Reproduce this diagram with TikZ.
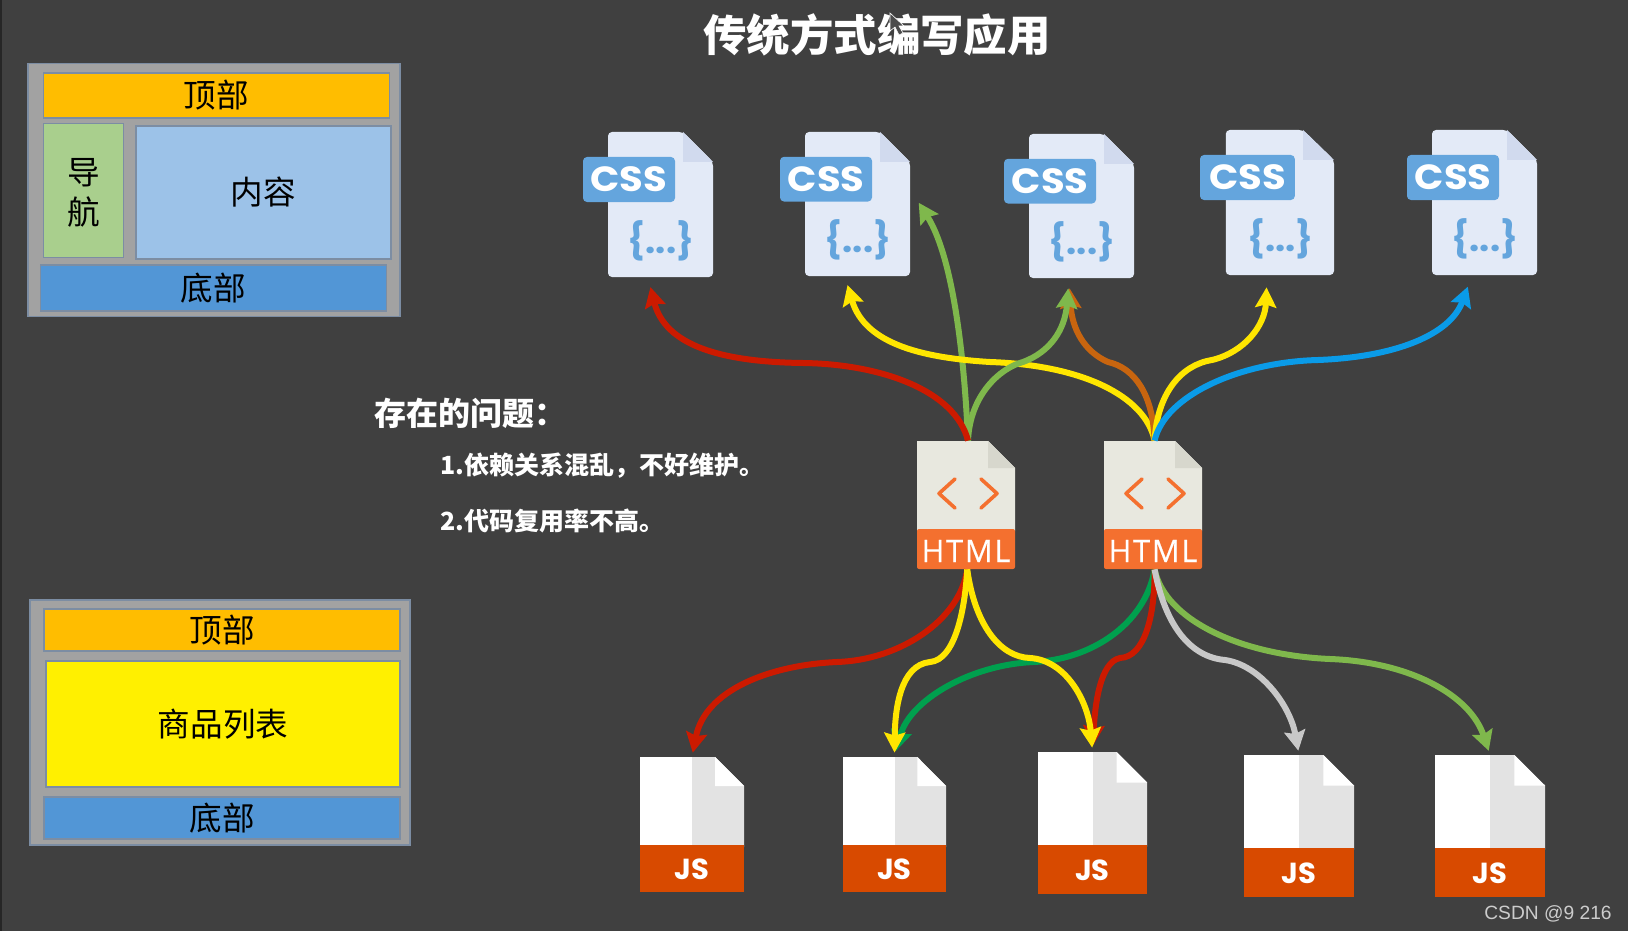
\documentclass[tikz,border=0pt]{standalone}
\usepackage{fontspec}
\usetikzlibrary{arrows.meta}
\setmainfont{Noto Sans CJK SC}
\newfontfamily\iconfont{Poppins}
\newfontfamily\htmlfont[FakeBold=0.4]{Open Sans}
\newfontfamily\wmfont{Liberation Sans}
\definecolor{bgc}{HTML}{404040}
\definecolor{frameg}{HTML}{A2A2A2}
\definecolor{edgeb}{HTML}{7C8DA3}
\definecolor{topc}{HTML}{FFBD00}
\definecolor{navc}{HTML}{A9CF8D}
\definecolor{contc}{HTML}{9CC2E8}
\definecolor{botc}{HTML}{5296D6}
\definecolor{listc}{HTML}{FFF000}
\definecolor{cssb}{HTML}{E3EAF7}
\definecolor{cssf}{HTML}{D1DAEE}
\definecolor{cssl}{HTML}{64A5DD}
\definecolor{htmlb}{HTML}{E8E8DF}
\definecolor{htmlf}{HTML}{D7D7CD}
\definecolor{htmlo}{HTML}{F4702F}
\definecolor{jsg}{HTML}{E3E3E3}
\definecolor{jso}{HTML}{D84A00}
\definecolor{lred}{HTML}{CC1A00}
\definecolor{lyel}{HTML}{FFE600}
\definecolor{lgrn}{HTML}{7FB84C}
\definecolor{dgrn}{HTML}{00A04E}
\definecolor{lora}{HTML}{C8650F}
\definecolor{lblu}{HTML}{0A9BE8}
\definecolor{lgry}{HTML}{C8C8C8}
\tikzset{
  box/.style={draw=edgeb,line width=.8pt,inner sep=0pt,text=black},
  boxtxt/.style={font=\fontsize{16.3}{19}\selectfont},
  probtxt/.style={anchor=west,inner sep=0pt,text=white},
  link/.style={line width=3pt,-{Stealth[length=10pt,width=10.5pt,inset=1.5pt]}},
}
% #1 name, #2 left, #3 top, #4 width, #5 height  (reference 130 x 145)
\newcommand{\cssicon}[5]{
 \node[inner sep=0pt,minimum width=#4*.5pt,minimum height=#5*.5pt] (#1) at (#2+#4/2,#3+#5/2) {};
 \begin{scope}[shift={(#2,#3)},xscale=#4/130,yscale=#5/145]
  \fill[cssb,rounded corners=2pt] (25,0) -- (100,0) -- (130,30) -- (130,145) -- (25,145) -- cycle;
  \fill[cssf] (100,0) -- (130,30) -- (100,30) -- cycle;
  \fill[cssl,rounded corners=2pt] (0,25) rectangle (92,70);
  \node[text=white,font={\iconfont\bfseries\fontsize{17.5}{20}\selectfont}] (#1lab) at (46,47) {\scalebox{1.1}[1]{CSS}};
  \node[text=cssl,font={\iconfont\bfseries\fontsize{18}{22}\selectfont}] (#1br) at (78,109) {\{...\}};
 \end{scope}}
% reference 98 x 128
\newcommand{\htmlicon}[3]{
 \node[inner sep=0pt,minimum width=98*.5pt,minimum height=128*.5pt] (#1) at (#2+49,#3+64) {};
 \begin{scope}[shift={(#2,#3)}]
  \fill[htmlb] (0,0) -- (71,0) -- (98,27) -- (98,90) -- (0,90) -- cycle;
  \fill[htmlf] (71,0) -- (98,27) -- (71,27) -- cycle;
  \fill[htmlo,rounded corners=1pt] (0,88) rectangle (98,128);
  \draw[htmlo,line width=1.8pt,line cap=round,line join=round] (38,38) -- (22,52.5) -- (38,67);
  \draw[htmlo,line width=1.8pt,line cap=round,line join=round] (64,38) -- (80,52.5) -- (64,67);
  \node[text=white,font={\htmlfont\fontsize{15.5}{19}\selectfont}] (#1lab) at (49,110) {H\kern.8pt T\kern.8pt M\kern.8pt L};
 \end{scope}}
% reference 104 x 135
\newcommand{\jsicon}[5]{
 \node[inner sep=0pt,minimum width=#4*.5pt,minimum height=#5*.5pt] (#1) at (#2+#4/2,#3+#5/2) {};
 \begin{scope}[shift={(#2,#3)},xscale=#4/104,yscale=#5/135]
  \fill[jsg] (52,0) -- (75,0) -- (104,29) -- (104,90) -- (52,90) -- cycle;
  \fill[white] (0,0) rectangle (52,90);
  \fill[white] (75,0) -- (104,29) -- (75,29) -- cycle;
  \fill[jso] (0,88) rectangle (104,135);
  \node[text=white,font={\iconfont\bfseries\fontsize{14.5}{17}\selectfont}] (#1lab) at (52,112) {JS};
 \end{scope}}
\begin{document}
\begin{tikzpicture}[x=.5pt,y=-.5pt]
\useasboundingbox (0,0) rectangle (1628,931);
\fill[bgc] (0,0) rectangle (1628,931);
\fill[black!85] (0,0) rectangle (2,931);
% title
\node[text=white,font={\bfseries\fontsize{21.7}{25}\selectfont}] (title) at (877,35) {传统方式编写应用};
\fill[black!70,draw=white,line width=.3pt] (890,13) -- (890,31) -- (895,27) -- (899,35) -- (903,33) -- (899,26) -- (904,26) -- cycle;
% panel 1
\node[box,fill=frameg,minimum width=186pt,minimum height=126.5pt] (p1) at (214,190) {};
\node[box,boxtxt,fill=topc,minimum width=173pt,minimum height=22.5pt] (p1top) at (216.5,95.5) {顶部};
\node[box,boxtxt,fill=navc,minimum width=40pt,minimum height=67pt,align=center] (p1nav) at (83.5,190.5) {\rule{0pt}{15.5pt}导\\[1pt]航};
\node[box,boxtxt,fill=contc,minimum width=127.5pt,minimum height=66.5pt] (p1cont) at (263.5,192.5) {内容};
\node[box,boxtxt,fill=botc,minimum width=173pt,minimum height=23pt] (p1bot) at (213.5,288) {底部};
% panel 2
\node[box,fill=frameg,minimum width=190pt,minimum height=122.5pt] (p2) at (220,722.5) {};
\node[box,boxtxt,fill=topc,minimum width=178pt,minimum height=21pt] (p2top) at (222,630) {顶部};
\node[box,boxtxt,fill=listc,minimum width=177pt,minimum height=63pt] (p2list) at (223,724) {商品列表};
\node[box,boxtxt,fill=botc,minimum width=178pt,minimum height=21pt] (p2bot) at (222,818) {底部};
% problems
\node[probtxt,font={\bfseries\fontsize{16}{19}\selectfont}] (q0) at (374,413) {存在的问题：};
\node[probtxt,font={\bfseries\fontsize{12.5}{15}\selectfont}] (q1) at (440,466) {1.依赖关系混乱，不好维护。};
\node[probtxt,font={\bfseries\fontsize{12.5}{15}\selectfont}] (q2) at (440,521) {2.代码复用率不高。};
% files
\cssicon{css1}{583}{132}{130}{145}
\cssicon{css2}{780}{132}{130}{144}
\cssicon{css3}{1004}{134}{130}{144}
\cssicon{css4}{1200}{130}{134}{145}
\cssicon{css5}{1407}{130}{130}{145}
\htmlicon{html1}{917}{441}
\htmlicon{html2}{1104}{441}
\jsicon{js1}{640}{757}{104}{135}
\jsicon{js2}{843}{757}{103}{135}
\jsicon{js3}{1038}{752}{109}{142}
\jsicon{js4}{1244}{755}{110}{142}
\jsicon{js5}{1435}{755}{110}{142}
% upper connectors
\draw[link,lgrn,shorten >=4pt] ([xshift=1pt]html1.north) .. controls (965,370) and (955,260) .. ([xshift=2pt,yshift=4pt]css2.east);
\draw[link,lyel,shorten >=4.5pt] ([xshift=.8pt]html2.north) .. controls (1145,395) and (1080,365) .. (990,362) .. controls (925,358) and (865,345) .. (css2.south);
\draw[link,lora,shorten >=5pt] ([xshift=.8pt]html2.north) .. controls (1153,395) and (1135,368) .. (1108,362) .. controls (1085,352) and (1072,330) .. (css3.south);
\draw[link,lgrn,shorten >=5pt] ([xshift=1pt]html1.north) .. controls (970,395) and (1000,368) .. (1023,362) .. controls (1050,352) and (1065,330) .. (css3.south);
\draw[link,lred,shorten >=5pt] ([xshift=1pt]html1.north) .. controls (955,390) and (880,364) .. (803,363) .. controls (720,362) and (665,345) .. (css1.south);
\draw[link,lyel,shorten >=6pt] ([xshift=.8pt]html2.north) .. controls (1157,395) and (1180,365) .. (1212,360) .. controls (1245,352) and (1265,325) .. (css4.south);
\draw[link,lblu,shorten >=6pt] ([xshift=.8pt]html2.north) .. controls (1165,395) and (1240,362) .. (1318,360) .. controls (1395,357) and (1450,335) .. (css5.south);
% lower connectors
\draw[link,dgrn,shorten >=3pt] ([xshift=.8pt]html2.south) .. controls (1145,625) and (1090,660) .. (1033,662) .. controls (970,665) and (910,700) .. (js2.north);
\draw[link,lred,shorten >=3pt] ([xshift=.8pt]html2.south) .. controls (1155,615) and (1145,657) .. (1120,658) .. controls (1100,662) and (1095,705) .. (js3.north);
\draw[link,lgrn,shorten >=2pt] ([xshift=.8pt]html2.south) .. controls (1165,620) and (1240,655) .. (1330,659) .. controls (1410,662) and (1470,695) .. (js5.north);
\draw[link,lgry,shorten >=2pt] ([xshift=.8pt]html2.south) .. controls (1165,625) and (1190,657) .. (1225,660) .. controls (1260,665) and (1290,705) .. (js4.north);
\draw[link,lred,shorten >=2pt] ([xshift=.6pt]html1.south) .. controls (960,620) and (900,660) .. (837,662) .. controls (770,665) and (705,690) .. (js1.north);
\draw[link,lyel,shorten >=2pt] ([xshift=.6pt]html1.south) .. controls (965,610) and (955,660) .. (930,662) .. controls (900,665) and (895,710) .. (js2.north);
\draw[link,lyel,shorten >=2pt] ([xshift=.6pt]html1.south) .. controls (975,625) and (1000,657) .. (1030,658) .. controls (1065,660) and (1088,700) .. (js3.north);
% watermark
\node[text=black!20,font={\wmfont\fontsize{9.6}{12}\selectfont}] (wm) at (1548,914) {CSDN @9 216};
\end{tikzpicture}
\end{document}
